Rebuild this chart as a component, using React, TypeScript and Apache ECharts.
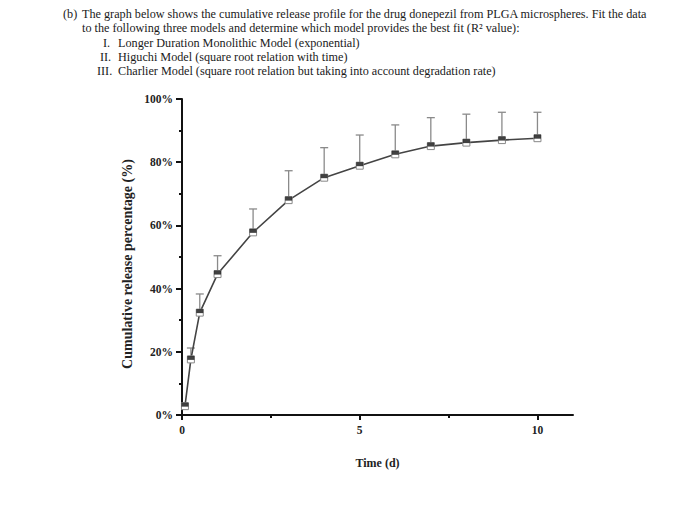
import React, { useEffect, useRef } from 'react';
import * as echarts from 'echarts';

// cumulative release of donepezil from PLGA microspheres
const timeDays = [0.083, 0.25, 0.5, 1, 2, 3, 4, 5, 6, 7, 8, 9, 10];
const releasePct = [2.8, 17.6, 32.4, 44.6, 57.8, 68, 75.1, 78.9, 82.5, 85.1, 86.2, 87.0, 87.6];
const releaseSd = [0.8, 3.6, 5.9, 5.8, 7.4, 9.3, 9.5, 9.7, 9.3, 9.0, 9.0, 8.8, 8.2];

const xMajorTicks = [0, 5, 10];
const xMinorTicks = [2.5, 7.5];

const headerLines = [
  { x: 63, y: 15, text: '(b)' },
  { x: 82, y: 15, text: 'The graph below shows the cumulative release profile for the drug donepezil from PLGA microspheres. Fit the data' },
  { x: 82, y: 29, text: 'to the following three models and determine which model provides the best fit (R² value):' },
  { x: 103, y: 44, text: 'I.' },
  { x: 118, y: 44, text: 'Longer Duration Monolithic Model (exponential)' },
  { x: 100, y: 58, text: 'II.' },
  { x: 118, y: 58, text: 'Higuchi Model (square root relation with time)' },
  { x: 97, y: 72, text: 'III.' },
  { x: 118, y: 72, text: 'Charlier Model (square root relation but taking into account degradation rate)' },
];

const FONT = '"Liberation Serif", "DejaVu Serif", serif';

export default function App() {
  const chartRef = useRef<HTMLDivElement>(null);

  useEffect(() => {
    if (!chartRef.current) return;
    const chart = echarts.init(chartRef.current, null, { renderer: 'svg' });

    const points = timeDays.map((t, i) => [t, releasePct[i]]);
    const errData = timeDays.map((t, i) => [t, releasePct[i], releasePct[i] + releaseSd[i]]);

    const header = headerLines.map((l) => ({
      type: 'text',
      left: l.x,
      top: l.y - 7,
      style: { text: l.text, font: `12.2px ${FONT}`, fill: '#1a1a1a' },
    }));

    const option = {
      animation: false,
      backgroundColor: '#fff',
      grid: { left: 182, right: 127, top: 99, bottom: 113 },
      graphic: [
        ...header,
        {
          type: 'text',
          x: 127,
          y: 264,
          rotation: Math.PI / 2,
          style: {
            text: 'Cumulative release percentage (%)',
            font: `bold 14px ${FONT}`,
            fill: '#222',
            textAlign: 'center',
            textVerticalAlign: 'middle',
          },
        },
      ],
      xAxis: [
        {
          type: 'value',
          min: 0,
          max: 11,
          interval: 5,
          name: 'Time (d)',
          nameLocation: 'middle',
          nameGap: 42,
          nameTextStyle: { fontFamily: FONT, fontWeight: 'bold', fontSize: 12, color: '#222' },
          splitLine: { show: false },
          axisLine: { lineStyle: { color: '#111', width: 2 } },
          axisTick: { customValues: xMajorTicks, length: 5, lineStyle: { color: '#111', width: 2 } },
          axisLabel: {
            customValues: xMajorTicks,
            margin: 9,
            fontFamily: FONT,
            fontWeight: 'bold',
            fontSize: 11.5,
            color: '#222',
          },
        },
        {
          type: 'value',
          min: 0,
          max: 11,
          interval: 5,
          position: 'bottom',
          splitLine: { show: false },
          axisLine: { show: false },
          axisTick: { customValues: xMinorTicks, length: 3, lineStyle: { color: '#111', width: 2 } },
          axisLabel: { show: false },
        },
      ],
      yAxis: {
        type: 'value',
        min: 0,
        max: 100,
        interval: 20,
        splitLine: { show: false },
        axisLine: { show: true, lineStyle: { color: '#111', width: 2 } },
        axisTick: { length: 6, lineStyle: { color: '#111', width: 2 } },
        minorTick: { show: true, splitNumber: 2, length: 3, lineStyle: { color: '#111', width: 2 } },
        axisLabel: {
          formatter: '{value}%',
          margin: 9,
          fontFamily: FONT,
          fontWeight: 'bold',
          fontSize: 11.5,
          color: '#222',
        },
      },
      series: [
        {
          type: 'custom',
          data: errData,
          z: 1,
          renderItem: (params: any, api: any) => {
            const x = api.value(0);
            const lo = api.coord([x, api.value(1)]);
            const hi = api.coord([x, api.value(2)]);
            const capHalf = 4;
            const style = { stroke: '#8a8a8a', lineWidth: 1.3 };
            return {
              type: 'group',
              children: [
                { type: 'line', shape: { x1: lo[0], y1: lo[1], x2: hi[0], y2: hi[1] }, style },
                { type: 'line', shape: { x1: hi[0] - capHalf, y1: hi[1], x2: hi[0] + capHalf, y2: hi[1] }, style },
              ],
            };
          },
        },
        {
          type: 'line',
          data: points,
          z: 2,
          symbol: 'rect',
          symbolSize: [7, 7],
          itemStyle: { color: '#fff', borderColor: '#888', borderWidth: 1 },
          lineStyle: { color: '#444', width: 1.6 },
        },
        {
          type: 'scatter',
          data: points,
          z: 3,
          symbol: 'rect',
          symbolSize: [7, 4],
          symbolOffset: [0, -1.5],
          itemStyle: { color: '#111' },
        },
      ],
    };

    chart.setOption(option);
    return () => chart.dispose();
  }, []);

  return (
    <div
      ref={chartRef}
      style={{ position: 'fixed', left: 0, top: 0, width: '700px', height: '528px' }}
    />
  );
}
